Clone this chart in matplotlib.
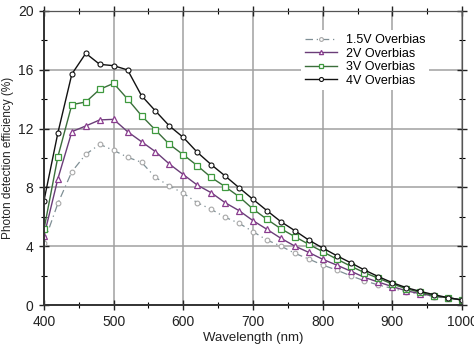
import matplotlib
matplotlib.use("Agg")
import matplotlib.pyplot as plt
from matplotlib.ticker import MultipleLocator

plt.rcParams['font.family'] = ['Liberation Sans', 'DejaVu Sans']

wavelength = list(range(400, 1001, 20))

pde_1_5v = [4.24, 6.92, 9.07, 10.25, 10.93, 10.52, 10.05, 9.71, 8.68, 8.10,
            7.60, 6.96, 6.51, 5.97, 5.56, 4.99, 4.42, 4.01, 3.52, 3.13,
            2.72, 2.38, 1.99, 1.65, 1.36, 1.13, 0.90, 0.73, 0.56, 0.47, 0.34]
pde_2v = [4.69, 8.60, 11.79, 12.18, 12.59, 12.63, 11.79, 11.11, 10.43, 9.59,
          8.87, 8.16, 7.64, 6.96, 6.42, 5.74, 5.15, 4.54, 4.01, 3.58,
          3.11, 2.72, 2.31, 1.88, 1.56, 1.25, 0.97, 0.77, 0.61, 0.50, 0.34]
pde_3v = [5.15, 10.10, 13.63, 13.81, 14.67, 15.08, 14.01, 12.88, 11.90, 10.93,
          10.22, 9.48, 8.68, 8.05, 7.37, 6.53, 5.83, 5.19, 4.65, 4.13,
          3.63, 3.13, 2.65, 2.20, 1.82, 1.43, 1.11, 0.86, 0.63, 0.50, 0.34]
pde_4v = [7.10, 11.72, 15.71, 17.12, 16.37, 16.28, 15.99, 14.24, 13.20, 12.18,
          11.40, 10.39, 9.55, 8.78, 7.98, 7.19, 6.42, 5.67, 5.06, 4.42,
          3.88, 3.36, 2.88, 2.38, 1.93, 1.52, 1.18, 0.93, 0.70, 0.50, 0.34]

labels = ["1.5V Overbias", "2V Overbias", "3V Overbias", "4V Overbias"]

fig = plt.figure(figsize=(4.74, 3.51), dpi=100)
ax = fig.add_axes([0.0928, 0.131, 0.8819, 0.8377])

ax.plot(wavelength, pde_1_5v, color='#7f8f95', lw=0.9, ls=(0, (6, 3, 1, 3)),
        marker='o', ms=3.4, mfc='white', mec='#a8a8a8', mew=0.8, label=labels[0])
ax.plot(wavelength, pde_2v, color='#6a3d78', lw=1.0,
        marker='^', ms=3.8, mfc='white', mec='#8a3d8f', mew=0.9, label=labels[1])
ax.plot(wavelength, pde_3v, color='#3b6e3b', lw=1.0,
        marker='s', ms=3.8, mfc='white', mec='#3f9a3f', mew=0.9, label=labels[2])
ax.plot(wavelength, pde_4v, color='#111111', lw=1.0,
        marker='o', ms=3.6, mfc='white', mec='#111111', mew=0.8, label=labels[3])

ax.set_xlim(400, 1000)
ax.set_ylim(0, 20)
ax.xaxis.set_major_locator(MultipleLocator(100))
ax.xaxis.set_minor_locator(MultipleLocator(50))
ax.yaxis.set_major_locator(MultipleLocator(4))
ax.yaxis.set_minor_locator(MultipleLocator(2))
ax.grid(True, which='major', color='#a0a0a0', lw=1.1)
ax.set_axisbelow(True)

for s in ax.spines.values():
    s.set_color('#555555')
    s.set_linewidth(0.9)
ax.spines['left'].set_linewidth(1.4)
ax.spines['bottom'].set_linewidth(1.4)
ax.spines['left'].set_color('#333333')
ax.spines['bottom'].set_color('#333333')

ax.tick_params(which='major', direction='inout', length=7, width=1.0,
               top=True, right=True, labelsize=10, colors='#222222', pad=4)
ax.tick_params(which='minor', direction='inout', length=4, width=0.8,
               top=True, right=True)

ax.set_xlabel("Wavelength (nm)", fontsize=9.5, color='#222222', labelpad=2)
ax.set_ylabel("Photon detection efficiency (%)", fontsize=8.5, color='#222222', labelpad=3)

leg = ax.legend(loc='upper left', bbox_to_anchor=(0.6, 0.955), frameon=True,
                fontsize=9, handlelength=2.6, handletextpad=0.7,
                labelspacing=0.12, borderpad=0.3, framealpha=1.0,
                markerscale=0.8)
leg.get_frame().set_edgecolor('none')
leg.get_frame().set_facecolor('white')

fig.savefig("out.png", dpi=100)
